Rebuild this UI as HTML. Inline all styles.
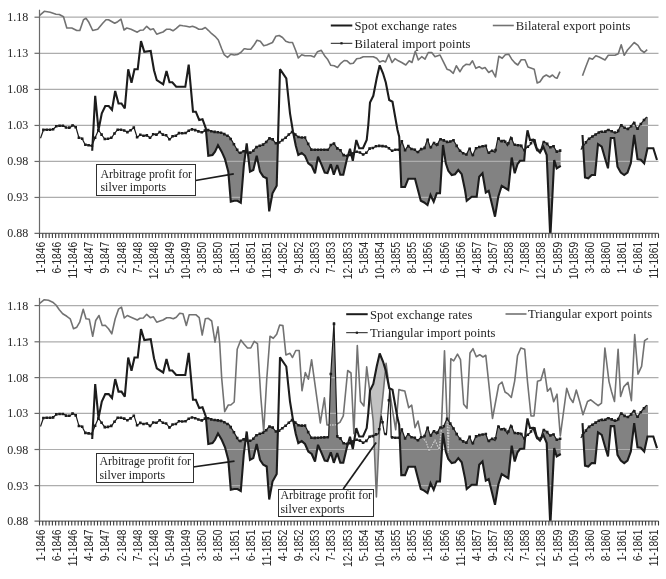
<!DOCTYPE html>
<html><head><meta charset="utf-8"><title>Arbitrage charts</title>
<style>
html,body{margin:0;padding:0;background:#fff;}
svg{display:block;}
text{font-family:"Liberation Serif",serif;fill:#1e1e1e;}
.yl{font-size:12px;}
.lg{font-size:12.6px;letter-spacing:0.09px;}
.bx{font-size:11.86px;}
.xl{font-family:"Liberation Sans",sans-serif;font-size:13.2px;fill:#2a2a2a;}
</style></head><body>
<svg width="666" height="579" viewBox="0 0 666 579">
<rect width="666" height="579" fill="#fff"/>
<defs><clipPath id="c1s0"><polygon points="92.2,-10.3 92.2,150.8 95.2,95.8 98.5,130.0 101.8,113.3 105.3,106.0 108.7,106.0 112.0,109.8 115.2,91.0 118.5,103.5 121.5,103.5 124.8,108.5 128.2,69.3 131.5,82.7 134.5,69.3 137.7,69.3 141.0,41.0 144.3,51.8 150.7,51.0 154.0,70.2 156.8,80.2 163.2,84.3 166.5,71.0 169.5,82.3 172.3,82.3 176.2,86.8 185.3,86.8 188.7,64.7 193.0,111.7 195.8,111.7 199.2,120.0 202.5,119.2 205.8,128.3 208.3,155.8 212.5,155.0 215.0,151.7 218.0,145.3 221.7,151.7 225.0,159.2 228.3,171.7 230.8,201.7 234.2,200.8 237.5,200.8 240.8,202.8 243.8,165.8 246.7,143.3 250.0,171.7 253.3,170.0 256.7,155.8 260.0,171.7 263.3,176.7 266.7,178.3 269.2,211.3 272.5,193.3 276.7,185.8 280.0,69.2 286.3,78.3 290.0,113.3 293.0,131.7 295.8,145.8 298.3,155.0 301.7,153.0 305.0,155.8 308.3,163.3 311.7,165.8 315.0,173.3 318.0,156.7 321.3,164.2 324.7,172.5 327.5,173.0 330.8,164.2 333.8,174.7 337.2,165.0 340.3,174.7 343.3,174.7 346.7,160.0 350.0,148.7 352.8,160.8 356.3,140.0 359.2,148.3 363.0,148.3 366.7,140.0 368.3,125.0 370.0,102.5 373.3,95.8 376.7,78.3 379.7,65.3 383.0,73.3 385.8,82.5 389.2,100.0 392.5,101.7 397.5,130.0 399.2,136.7 401.3,187.0 405.0,187.0 408.3,178.7 415.0,178.7 417.5,188.3 420.8,200.8 424.2,202.5 427.5,205.0 430.5,195.0 433.7,201.7 436.7,193.3 440.0,193.3 443.0,145.0 445.8,163.3 448.3,170.8 451.7,175.0 455.0,174.2 458.3,170.0 461.7,174.2 465.0,190.0 466.7,200.8 471.7,196.7 476.7,196.7 479.2,176.7 482.5,173.3 485.8,192.5 488.7,190.8 495.0,216.7 498.3,196.7 501.7,185.8 508.3,190.0 511.7,157.5 514.7,173.3 517.5,164.2 520.0,160.8 524.2,160.5 525.5,145.0 527.5,130.3 530.0,140.0 533.3,139.7 536.7,149.2 540.0,152.5 543.3,146.7 546.7,155.0 550.3,238.0 554.2,160.0 556.7,168.3 560.8,165.8 560.8,-10.3"/></clipPath><clipPath id="c1i0"><polygon points="202.5,273.4 202.5,132.5 205.8,129.7 209.2,130.3 212.5,131.7 215.8,132.0 219.2,132.5 222.5,133.0 225.8,135.0 229.2,136.7 232.5,141.7 235.8,147.5 239.2,153.3 242.5,151.7 245.0,150.8 248.3,153.3 252.5,151.7 255.8,147.5 259.2,145.8 262.5,145.0 265.8,142.5 269.2,138.3 272.5,139.2 275.8,143.3 279.2,142.5 282.5,140.0 285.8,137.5 289.2,134.2 292.5,131.7 295.8,135.0 299.2,137.5 305.0,137.5 308.3,144.2 311.7,150.0 315.0,149.7 328.3,149.7 330.8,145.0 333.8,143.3 337.2,148.3 340.3,150.0 343.3,155.0 346.7,155.8 350.0,155.0 353.3,153.3 356.7,151.7 360.0,152.5 363.3,154.7 366.7,152.5 370.0,148.0 373.3,148.0 375.8,146.3 380.0,145.8 386.7,146.7 387.5,147.0 391.7,150.8 395.0,149.7 399.2,149.7 401.7,140.8 405.0,150.3 408.0,145.8 411.7,149.2 414.2,149.2 417.5,152.5 420.8,149.2 424.2,148.7 427.5,139.2 430.5,148.0 433.7,142.5 436.7,145.8 440.0,139.2 443.0,140.0 445.8,141.3 448.3,142.5 453.3,140.0 456.7,145.8 460.0,150.8 463.3,153.3 466.3,154.7 469.5,148.3 472.5,155.8 475.8,148.3 479.2,147.0 482.5,146.3 485.8,145.8 488.3,153.3 491.7,150.3 495.0,152.5 498.0,137.5 500.8,141.7 504.2,140.0 507.5,145.8 510.8,136.7 514.2,144.7 517.5,145.3 520.8,145.0 524.2,150.8 526.7,147.5 530.0,145.0 532.5,140.8 535.0,140.0 537.5,150.0 540.0,152.5 543.3,141.7 546.7,143.3 550.0,147.5 553.3,145.8 556.7,151.7 560.8,150.3 560.8,150.3 560.8,273.4"/></clipPath><clipPath id="c1s1"><polygon points="582.5,-10.3 582.5,135.0 585.0,177.5 588.3,178.3 591.7,175.0 595.0,175.0 598.0,144.2 601.7,146.7 605.0,158.3 608.0,168.3 610.8,138.0 614.2,138.0 617.5,166.7 620.8,172.5 624.2,175.0 627.5,172.5 630.8,163.3 634.2,135.0 637.5,159.2 640.8,159.7 644.2,163.3 647.5,148.3 653.3,148.3 657.0,160.0 657.0,-10.3"/></clipPath><clipPath id="c1i1"><polygon points="580.8,273.4 580.8,149.7 584.2,145.0 587.5,140.0 590.8,137.5 594.2,135.3 597.5,133.3 600.8,131.3 604.2,132.5 607.5,129.7 610.8,130.8 614.2,132.5 617.5,132.5 620.8,125.0 624.2,127.5 627.5,129.2 630.8,126.7 633.8,122.0 637.2,129.2 640.0,125.0 643.3,120.8 646.7,117.0 648.0,117.0 648.0,273.4"/></clipPath><clipPath id="c1p"><rect x="39.5" y="4.699999999999999" width="622.0" height="228.70000000000002"/></clipPath></defs>
<polygon points="202.5,273.4 202.5,132.5 205.8,129.7 209.2,130.3 212.5,131.7 215.8,132.0 219.2,132.5 222.5,133.0 225.8,135.0 229.2,136.7 232.5,141.7 235.8,147.5 239.2,153.3 242.5,151.7 245.0,150.8 248.3,153.3 252.5,151.7 255.8,147.5 259.2,145.8 262.5,145.0 265.8,142.5 269.2,138.3 272.5,139.2 275.8,143.3 279.2,142.5 282.5,140.0 285.8,137.5 289.2,134.2 292.5,131.7 295.8,135.0 299.2,137.5 305.0,137.5 308.3,144.2 311.7,150.0 315.0,149.7 328.3,149.7 330.8,145.0 333.8,143.3 337.2,148.3 340.3,150.0 343.3,155.0 346.7,155.8 350.0,155.0 353.3,153.3 356.7,151.7 360.0,152.5 363.3,154.7 366.7,152.5 370.0,148.0 373.3,148.0 375.8,146.3 380.0,145.8 386.7,146.7 387.5,147.0 391.7,150.8 395.0,149.7 399.2,149.7 401.7,140.8 405.0,150.3 408.0,145.8 411.7,149.2 414.2,149.2 417.5,152.5 420.8,149.2 424.2,148.7 427.5,139.2 430.5,148.0 433.7,142.5 436.7,145.8 440.0,139.2 443.0,140.0 445.8,141.3 448.3,142.5 453.3,140.0 456.7,145.8 460.0,150.8 463.3,153.3 466.3,154.7 469.5,148.3 472.5,155.8 475.8,148.3 479.2,147.0 482.5,146.3 485.8,145.8 488.3,153.3 491.7,150.3 495.0,152.5 498.0,137.5 500.8,141.7 504.2,140.0 507.5,145.8 510.8,136.7 514.2,144.7 517.5,145.3 520.8,145.0 524.2,150.8 526.7,147.5 530.0,145.0 532.5,140.8 535.0,140.0 537.5,150.0 540.0,152.5 543.3,141.7 546.7,143.3 550.0,147.5 553.3,145.8 556.7,151.7 560.8,150.3 560.8,150.3 560.8,273.4" fill="#828282" clip-path="url(#c1s0)"/>
<polygon points="580.8,273.4 580.8,149.7 584.2,145.0 587.5,140.0 590.8,137.5 594.2,135.3 597.5,133.3 600.8,131.3 604.2,132.5 607.5,129.7 610.8,130.8 614.2,132.5 617.5,132.5 620.8,125.0 624.2,127.5 627.5,129.2 630.8,126.7 633.8,122.0 637.2,129.2 640.0,125.0 643.3,120.8 646.7,117.0 648.0,117.0 648.0,273.4" fill="#828282" clip-path="url(#c1s1)"/>
<line x1="39.5" y1="17.2" x2="658.5" y2="17.2" stroke="#adadad" stroke-width="1.2"/>
<line x1="39.5" y1="53.3" x2="658.5" y2="53.3" stroke="#adadad" stroke-width="1.2"/>
<line x1="39.5" y1="89.4" x2="658.5" y2="89.4" stroke="#adadad" stroke-width="1.2"/>
<line x1="39.5" y1="125.45" x2="658.5" y2="125.45" stroke="#adadad" stroke-width="1.2"/>
<line x1="39.5" y1="161.45" x2="658.5" y2="161.45" stroke="#adadad" stroke-width="1.2"/>
<line x1="39.5" y1="197.45" x2="658.5" y2="197.45" stroke="#adadad" stroke-width="1.2"/>
<polyline points="39.7,15.3 44.3,11.3 50.2,12.2 56.0,14.2 59.3,14.5 63.5,16.7 66.8,28.0 71.8,28.0 76.8,30.5 79.8,30.5 83.5,19.7 86.0,18.3 88.5,21.7 92.7,30.5 97.7,29.2 102.7,23.3 106.0,19.7 108.5,19.7 114.7,23.3 117.7,21.7 121.0,19.2 124.0,30.0 126.8,28.0 131.0,29.2 137.3,32.2 140.0,30.3 143.3,30.0 146.7,26.3 150.3,29.7 153.3,28.7 156.7,34.2 160.0,33.0 163.0,32.0 166.7,29.2 170.0,29.2 173.0,30.8 176.3,28.3 179.7,25.3 183.0,25.8 186.3,26.2 189.7,27.0 192.5,26.2 195.8,27.5 198.8,29.2 202.0,29.2 205.3,27.5 208.3,30.3 211.7,33.7 215.0,36.3 218.3,40.0 221.7,48.7 224.2,54.7 227.5,57.5 230.8,54.2 234.2,55.0 237.5,54.5 240.8,52.5 244.2,48.7 245.0,48.7 247.5,49.2 250.8,49.2 254.2,44.7 257.0,40.3 260.3,41.3 263.7,45.8 266.7,45.0 272.5,42.5 275.8,36.3 279.2,35.5 282.5,37.5 285.8,41.3 289.2,42.5 292.5,42.5 295.8,50.8 298.3,58.0 301.7,54.7 305.0,55.8 310.8,55.8 314.2,57.0 317.5,51.7 321.3,50.3 325.0,56.3 327.5,59.2 330.8,65.3 334.2,65.8 337.5,67.5 340.8,63.3 344.2,60.5 347.0,60.8 350.3,63.8 353.3,63.3 356.7,58.7 360.0,58.3 363.3,56.7 373.3,56.7 376.7,58.3 379.7,62.0 383.0,60.8 385.5,62.0 388.7,54.2 392.0,62.5 395.0,58.7 398.3,60.8 401.7,62.5 405.8,65.0 409.2,60.8 412.0,62.5 415.3,51.3 418.3,60.0 421.7,56.7 425.0,59.2 428.3,52.5 431.7,52.5 435.0,56.7 440.0,55.0 443.3,61.7 447.0,69.2 450.0,70.3 453.3,73.3 456.3,65.8 460.0,71.7 463.0,66.7 466.3,64.2 469.7,64.7 472.5,60.8 475.8,68.3 479.2,66.7 482.0,68.7 485.0,67.5 488.7,72.5 492.0,70.3 495.5,77.0 498.8,56.3 502.2,58.3 505.3,54.7 508.7,54.2 511.7,59.2 515.0,63.0 517.8,65.0 521.2,59.7 525.0,59.7 528.0,67.0 530.8,68.0 534.2,69.2 537.2,83.0 540.0,81.7 543.3,76.7 546.3,75.0 549.7,77.0 552.5,75.0 555.0,77.5 557.0,78.3 560.0,71.7" fill="none" stroke="#727272" stroke-width="1.6" stroke-linejoin="round"/>
<polyline points="582.5,75.8 585.8,66.7 589.2,58.0 592.5,59.2 595.8,55.8 599.2,57.0 605.0,60.0 608.3,55.3 615.0,55.3 618.3,53.7 621.2,44.7 624.2,55.3 627.5,50.0 634.2,42.5 638.0,45.3 640.8,50.0 644.2,52.5 647.2,49.7" fill="none" stroke="#727272" stroke-width="1.6" stroke-linejoin="round"/>
<polyline points="40.5,138.3 43.5,129.7 52.7,129.7 56.8,125.8 63.5,125.8 66.8,128.0 70.2,127.5 73.0,125.0 76.0,127.5 79.0,138.0 81.8,138.0 85.2,144.7 91.8,145.8 95.2,137.5 98.5,130.0 101.8,135.0 105.2,139.5 108.5,138.7 111.8,137.5 114.3,133.7 117.7,129.7 121.0,129.7 124.3,130.5 127.3,132.2 131.0,130.0 134.0,127.5 137.2,137.5 140.2,134.7 143.3,135.8 146.7,135.3 150.3,138.0 153.3,134.2 156.7,134.7 159.7,132.0 163.3,135.0 166.3,135.3 169.7,139.7 172.5,136.3 175.8,135.8 179.2,133.0 182.5,133.3 185.8,133.0 189.2,130.3 192.5,129.2 195.8,130.3 199.2,131.7 202.5,132.5 205.8,129.7 209.2,130.3 212.5,131.7 215.8,132.0 219.2,132.5 222.5,133.0 225.8,135.0 229.2,136.7 232.5,141.7 235.8,147.5 239.2,153.3 242.5,151.7 245.0,150.8 248.3,153.3 252.5,151.7 255.8,147.5 259.2,145.8 262.5,145.0 265.8,142.5 269.2,138.3 272.5,139.2 275.8,143.3 279.2,142.5 282.5,140.0 285.8,137.5 289.2,134.2 292.5,131.7 295.8,135.0 299.2,137.5 305.0,137.5 308.3,144.2 311.7,150.0 315.0,149.7 328.3,149.7 330.8,145.0 333.8,143.3 337.2,148.3 340.3,150.0 343.3,155.0 346.7,155.8 350.0,155.0 353.3,153.3 356.7,151.7 360.0,152.5 363.3,154.7 366.7,152.5 370.0,148.0 373.3,148.0 375.8,146.3 380.0,145.8 386.7,146.7 387.5,147.0 391.7,150.8 395.0,149.7 399.2,149.7 401.7,140.8 405.0,150.3 408.0,145.8 411.7,149.2 414.2,149.2 417.5,152.5 420.8,149.2 424.2,148.7 427.5,139.2 430.5,148.0 433.7,142.5 436.7,145.8 440.0,139.2 443.0,140.0 445.8,141.3 448.3,142.5 453.3,140.0 456.7,145.8 460.0,150.8 463.3,153.3 466.3,154.7 469.5,148.3 472.5,155.8 475.8,148.3 479.2,147.0 482.5,146.3 485.8,145.8 488.3,153.3 491.7,150.3 495.0,152.5 498.0,137.5 500.8,141.7 504.2,140.0 507.5,145.8 510.8,136.7 514.2,144.7 517.5,145.3 520.8,145.0 524.2,150.8 526.7,147.5 530.0,145.0 532.5,140.8 535.0,140.0 537.5,150.0 540.0,152.5 543.3,141.7 546.7,143.3 550.0,147.5 553.3,145.8 556.7,151.7 560.8,150.3" fill="none" stroke="#1c1c1c" stroke-width="1.2" stroke-linejoin="round"/>
<path d="M42.1,128.6h2.6v2.6h-2.6zM45.4,128.4h2.6v2.6h-2.6zM48.6,128.4h2.6v2.6h-2.6zM51.8,128.0h2.6v2.6h-2.6zM55.0,125.0h2.6v2.6h-2.6zM58.3,124.5h2.6v2.6h-2.6zM61.5,124.5h2.6v2.6h-2.6zM64.7,126.2h2.6v2.6h-2.6zM68.0,126.3h2.6v2.6h-2.6zM71.2,124.2h2.6v2.6h-2.6zM74.4,126.0h2.6v2.6h-2.6zM77.6,136.5h2.6v2.6h-2.6zM80.9,137.4h2.6v2.6h-2.6zM84.1,143.4h2.6v2.6h-2.6zM87.3,144.0h2.6v2.6h-2.6zM90.6,144.4h2.6v2.6h-2.6zM93.8,136.4h2.6v2.6h-2.6zM97.0,129.1h2.6v2.6h-2.6zM100.3,133.3h2.6v2.6h-2.6zM103.5,137.7h2.6v2.6h-2.6zM106.7,137.5h2.6v2.6h-2.6zM109.9,136.4h2.6v2.6h-2.6zM113.2,132.2h2.6v2.6h-2.6zM116.4,128.4h2.6v2.6h-2.6zM119.6,128.4h2.6v2.6h-2.6zM122.9,129.2h2.6v2.6h-2.6zM126.1,130.8h2.6v2.6h-2.6zM129.3,128.9h2.6v2.6h-2.6zM132.5,126.3h2.6v2.6h-2.6zM135.8,135.9h2.6v2.6h-2.6zM139.0,133.4h2.6v2.6h-2.6zM142.2,134.5h2.6v2.6h-2.6zM145.5,134.1h2.6v2.6h-2.6zM148.7,136.4h2.6v2.6h-2.6zM151.9,133.0h2.6v2.6h-2.6zM155.1,133.3h2.6v2.6h-2.6zM158.4,130.7h2.6v2.6h-2.6zM161.6,133.3h2.6v2.6h-2.6zM164.8,134.0h2.6v2.6h-2.6zM168.1,138.0h2.6v2.6h-2.6zM171.3,135.0h2.6v2.6h-2.6zM174.5,134.5h2.6v2.6h-2.6zM177.7,131.8h2.6v2.6h-2.6zM181.0,132.0h2.6v2.6h-2.6zM184.2,131.7h2.6v2.6h-2.6zM187.4,129.4h2.6v2.6h-2.6zM190.7,128.1h2.6v2.6h-2.6zM193.9,128.8h2.6v2.6h-2.6zM197.1,130.1h2.6v2.6h-2.6zM200.4,131.0h2.6v2.6h-2.6zM203.6,129.2h2.6v2.6h-2.6zM206.8,128.8h2.6v2.6h-2.6zM210.0,129.9h2.6v2.6h-2.6zM213.3,130.6h2.6v2.6h-2.6zM216.5,131.0h2.6v2.6h-2.6zM219.7,131.5h2.6v2.6h-2.6zM223.0,132.8h2.6v2.6h-2.6zM226.2,134.5h2.6v2.6h-2.6zM229.4,137.7h2.6v2.6h-2.6zM232.6,142.9h2.6v2.6h-2.6zM235.9,148.5h2.6v2.6h-2.6zM239.1,151.4h2.6v2.6h-2.6zM242.3,150.0h2.6v2.6h-2.6zM245.6,150.9h2.6v2.6h-2.6zM248.8,151.3h2.6v2.6h-2.6zM252.0,149.4h2.6v2.6h-2.6zM255.2,145.8h2.6v2.6h-2.6zM258.5,144.4h2.6v2.6h-2.6zM261.7,143.3h2.6v2.6h-2.6zM264.9,140.7h2.6v2.6h-2.6zM268.2,137.1h2.6v2.6h-2.6zM271.4,138.1h2.6v2.6h-2.6zM274.6,142.0h2.6v2.6h-2.6zM277.8,141.2h2.6v2.6h-2.6zM281.1,138.8h2.6v2.6h-2.6zM284.3,136.4h2.6v2.6h-2.6zM287.5,133.2h2.6v2.6h-2.6zM290.8,130.7h2.6v2.6h-2.6zM294.0,133.2h2.6v2.6h-2.6zM297.2,135.7h2.6v2.6h-2.6zM300.4,136.2h2.6v2.6h-2.6zM303.7,136.2h2.6v2.6h-2.6zM306.9,142.6h2.6v2.6h-2.6zM310.1,148.3h2.6v2.6h-2.6zM313.4,148.4h2.6v2.6h-2.6zM316.6,148.4h2.6v2.6h-2.6zM319.8,148.4h2.6v2.6h-2.6zM323.1,148.4h2.6v2.6h-2.6zM326.3,148.4h2.6v2.6h-2.6zM329.5,143.7h2.6v2.6h-2.6zM332.7,142.3h2.6v2.6h-2.6zM336.0,147.1h2.6v2.6h-2.6zM339.2,149.0h2.6v2.6h-2.6zM342.4,153.8h2.6v2.6h-2.6zM345.7,154.5h2.6v2.6h-2.6zM348.9,153.6h2.6v2.6h-2.6zM352.1,152.0h2.6v2.6h-2.6zM355.3,150.4h2.6v2.6h-2.6zM358.6,151.2h2.6v2.6h-2.6zM361.8,153.2h2.6v2.6h-2.6zM365.0,151.4h2.6v2.6h-2.6zM368.3,147.3h2.6v2.6h-2.6zM371.5,146.7h2.6v2.6h-2.6zM374.7,145.0h2.6v2.6h-2.6zM377.9,144.6h2.6v2.6h-2.6zM381.2,144.8h2.6v2.6h-2.6zM384.4,145.2h2.6v2.6h-2.6zM387.6,147.0h2.6v2.6h-2.6zM390.9,149.4h2.6v2.6h-2.6zM394.1,148.4h2.6v2.6h-2.6zM397.3,148.4h2.6v2.6h-2.6zM400.5,140.0h2.6v2.6h-2.6zM403.8,148.9h2.6v2.6h-2.6zM407.0,144.8h2.6v2.6h-2.6zM410.2,147.7h2.6v2.6h-2.6zM413.5,148.5h2.6v2.6h-2.6zM416.7,150.7h2.6v2.6h-2.6zM419.9,147.8h2.6v2.6h-2.6zM423.2,146.6h2.6v2.6h-2.6zM426.4,138.4h2.6v2.6h-2.6zM429.6,146.0h2.6v2.6h-2.6zM432.8,141.7h2.6v2.6h-2.6zM436.1,143.1h2.6v2.6h-2.6zM439.3,138.0h2.6v2.6h-2.6zM442.5,139.1h2.6v2.6h-2.6zM445.8,140.6h2.6v2.6h-2.6zM449.0,140.2h2.6v2.6h-2.6zM452.2,139.0h2.6v2.6h-2.6zM455.4,144.6h2.6v2.6h-2.6zM458.7,149.5h2.6v2.6h-2.6zM461.9,151.9h2.6v2.6h-2.6zM465.1,153.2h2.6v2.6h-2.6zM468.4,147.4h2.6v2.6h-2.6zM471.6,153.7h2.6v2.6h-2.6zM474.8,146.9h2.6v2.6h-2.6zM478.0,145.7h2.6v2.6h-2.6zM481.3,145.0h2.6v2.6h-2.6zM484.5,144.5h2.6v2.6h-2.6zM487.7,151.4h2.6v2.6h-2.6zM491.0,149.4h2.6v2.6h-2.6zM494.2,148.8h2.6v2.6h-2.6zM497.4,137.3h2.6v2.6h-2.6zM500.6,139.8h2.6v2.6h-2.6zM503.9,140.5h2.6v2.6h-2.6zM507.1,142.0h2.6v2.6h-2.6zM510.3,137.3h2.6v2.6h-2.6zM513.6,143.5h2.6v2.6h-2.6zM516.8,144.0h2.6v2.6h-2.6zM520.0,144.6h2.6v2.6h-2.6zM523.3,149.0h2.6v2.6h-2.6zM526.5,145.4h2.6v2.6h-2.6zM529.7,142.0h2.6v2.6h-2.6zM532.9,139.0h2.6v2.6h-2.6zM536.2,148.6h2.6v2.6h-2.6zM539.4,148.9h2.6v2.6h-2.6zM542.6,140.7h2.6v2.6h-2.6zM545.9,142.6h2.6v2.6h-2.6zM549.1,146.0h2.6v2.6h-2.6zM552.3,145.0h2.6v2.6h-2.6zM555.5,150.3h2.6v2.6h-2.6zM558.8,149.3h2.6v2.6h-2.6z" fill="#1c1c1c"/>
<polyline points="580.8,149.7 584.2,145.0 587.5,140.0 590.8,137.5 594.2,135.3 597.5,133.3 600.8,131.3 604.2,132.5 607.5,129.7 610.8,130.8 614.2,132.5 617.5,132.5 620.8,125.0 624.2,127.5 627.5,129.2 630.8,126.7 633.8,122.0 637.2,129.2 640.0,125.0 643.3,120.8 646.7,117.0" fill="none" stroke="#1c1c1c" stroke-width="1.2" stroke-linejoin="round"/>
<path d="M581.4,145.8h2.6v2.6h-2.6zM584.6,141.1h2.6v2.6h-2.6zM587.8,137.5h2.6v2.6h-2.6zM591.1,135.2h2.6v2.6h-2.6zM594.3,133.2h2.6v2.6h-2.6zM597.5,131.2h2.6v2.6h-2.6zM600.7,130.5h2.6v2.6h-2.6zM604.0,130.3h2.6v2.6h-2.6zM607.2,128.7h2.6v2.6h-2.6zM610.4,130.0h2.6v2.6h-2.6zM613.7,131.2h2.6v2.6h-2.6zM616.9,129.6h2.6v2.6h-2.6zM620.1,124.1h2.6v2.6h-2.6zM623.3,126.4h2.6v2.6h-2.6zM626.6,127.6h2.6v2.6h-2.6zM629.8,124.9h2.6v2.6h-2.6zM633.0,121.8h2.6v2.6h-2.6zM636.3,127.3h2.6v2.6h-2.6zM639.5,122.7h2.6v2.6h-2.6zM642.7,118.7h2.6v2.6h-2.6z" fill="#1c1c1c"/>
<polyline points="92.2,150.8 95.2,95.8 98.5,130.0 101.8,113.3 105.3,106.0 108.7,106.0 112.0,109.8 115.2,91.0 118.5,103.5 121.5,103.5 124.8,108.5 128.2,69.3 131.5,82.7 134.5,69.3 137.7,69.3 141.0,41.0 144.3,51.8 150.7,51.0 154.0,70.2 156.8,80.2 163.2,84.3 166.5,71.0 169.5,82.3 172.3,82.3 176.2,86.8 185.3,86.8 188.7,64.7 193.0,111.7 195.8,111.7 199.2,120.0 202.5,119.2 205.8,128.3 208.3,155.8 212.5,155.0 215.0,151.7 218.0,145.3 221.7,151.7 225.0,159.2 228.3,171.7 230.8,201.7 234.2,200.8 237.5,200.8 240.8,202.8 243.8,165.8 246.7,143.3 250.0,171.7 253.3,170.0 256.7,155.8 260.0,171.7 263.3,176.7 266.7,178.3 269.2,211.3 272.5,193.3 276.7,185.8 280.0,69.2 286.3,78.3 290.0,113.3 293.0,131.7 295.8,145.8 298.3,155.0 301.7,153.0 305.0,155.8 308.3,163.3 311.7,165.8 315.0,173.3 318.0,156.7 321.3,164.2 324.7,172.5 327.5,173.0 330.8,164.2 333.8,174.7 337.2,165.0 340.3,174.7 343.3,174.7 346.7,160.0 350.0,148.7 352.8,160.8 356.3,140.0 359.2,148.3 363.0,148.3 366.7,140.0 368.3,125.0 370.0,102.5 373.3,95.8 376.7,78.3 379.7,65.3 383.0,73.3 385.8,82.5 389.2,100.0 392.5,101.7 397.5,130.0 399.2,136.7 401.3,187.0 405.0,187.0 408.3,178.7 415.0,178.7 417.5,188.3 420.8,200.8 424.2,202.5 427.5,205.0 430.5,195.0 433.7,201.7 436.7,193.3 440.0,193.3 443.0,145.0 445.8,163.3 448.3,170.8 451.7,175.0 455.0,174.2 458.3,170.0 461.7,174.2 465.0,190.0 466.7,200.8 471.7,196.7 476.7,196.7 479.2,176.7 482.5,173.3 485.8,192.5 488.7,190.8 495.0,216.7 498.3,196.7 501.7,185.8 508.3,190.0 511.7,157.5 514.7,173.3 517.5,164.2 520.0,160.8 524.2,160.5 525.5,145.0 527.5,130.3 530.0,140.0 533.3,139.7 536.7,149.2 540.0,152.5 543.3,146.7 546.7,155.0 550.3,238.0 554.2,160.0 556.7,168.3 560.8,165.8" fill="none" stroke="#1c1c1c" stroke-width="2.1" stroke-linejoin="miter" stroke-miterlimit="3" clip-path="url(#c1p)"/>
<polyline points="582.5,135.0 585.0,177.5 588.3,178.3 591.7,175.0 595.0,175.0 598.0,144.2 601.7,146.7 605.0,158.3 608.0,168.3 610.8,138.0 614.2,138.0 617.5,166.7 620.8,172.5 624.2,175.0 627.5,172.5 630.8,163.3 634.2,135.0 637.5,159.2 640.8,159.7 644.2,163.3 647.5,148.3 653.3,148.3 657.0,160.0" fill="none" stroke="#1c1c1c" stroke-width="2.1" stroke-linejoin="miter" stroke-miterlimit="3" clip-path="url(#c1p)"/>
<line x1="39.5" y1="9.7" x2="39.5" y2="233.9" stroke="#6a6a6a" stroke-width="1.2"/>
<line x1="34.5" y1="233.4" x2="658.5" y2="233.4" stroke="#6a6a6a" stroke-width="1.2"/>
<line x1="34.5" y1="17.2" x2="39.5" y2="17.2" stroke="#6a6a6a" stroke-width="1.2"/>
<line x1="34.5" y1="53.3" x2="39.5" y2="53.3" stroke="#6a6a6a" stroke-width="1.2"/>
<line x1="34.5" y1="89.4" x2="39.5" y2="89.4" stroke="#6a6a6a" stroke-width="1.2"/>
<line x1="34.5" y1="125.45" x2="39.5" y2="125.45" stroke="#6a6a6a" stroke-width="1.2"/>
<line x1="34.5" y1="161.45" x2="39.5" y2="161.45" stroke="#6a6a6a" stroke-width="1.2"/>
<line x1="34.5" y1="197.45" x2="39.5" y2="197.45" stroke="#6a6a6a" stroke-width="1.2"/>
<path d="M39.50,233.4v4.5M42.72,233.4v4.5M45.95,233.4v4.5M49.17,233.4v4.5M52.40,233.4v4.5M55.62,233.4v4.5M58.84,233.4v4.5M62.07,233.4v4.5M65.29,233.4v4.5M68.52,233.4v4.5M71.74,233.4v4.5M74.96,233.4v4.5M78.19,233.4v4.5M81.41,233.4v4.5M84.64,233.4v4.5M87.86,233.4v4.5M91.08,233.4v4.5M94.31,233.4v4.5M97.53,233.4v4.5M100.76,233.4v4.5M103.98,233.4v4.5M107.20,233.4v4.5M110.43,233.4v4.5M113.65,233.4v4.5M116.88,233.4v4.5M120.10,233.4v4.5M123.32,233.4v4.5M126.55,233.4v4.5M129.77,233.4v4.5M132.99,233.4v4.5M136.22,233.4v4.5M139.44,233.4v4.5M142.67,233.4v4.5M145.89,233.4v4.5M149.11,233.4v4.5M152.34,233.4v4.5M155.56,233.4v4.5M158.79,233.4v4.5M162.01,233.4v4.5M165.23,233.4v4.5M168.46,233.4v4.5M171.68,233.4v4.5M174.91,233.4v4.5M178.13,233.4v4.5M181.35,233.4v4.5M184.58,233.4v4.5M187.80,233.4v4.5M191.03,233.4v4.5M194.25,233.4v4.5M197.47,233.4v4.5M200.70,233.4v4.5M203.92,233.4v4.5M207.15,233.4v4.5M210.37,233.4v4.5M213.59,233.4v4.5M216.82,233.4v4.5M220.04,233.4v4.5M223.27,233.4v4.5M226.49,233.4v4.5M229.71,233.4v4.5M232.94,233.4v4.5M236.16,233.4v4.5M239.39,233.4v4.5M242.61,233.4v4.5M245.83,233.4v4.5M249.06,233.4v4.5M252.28,233.4v4.5M255.51,233.4v4.5M258.73,233.4v4.5M261.95,233.4v4.5M265.18,233.4v4.5M268.40,233.4v4.5M271.62,233.4v4.5M274.85,233.4v4.5M278.07,233.4v4.5M281.30,233.4v4.5M284.52,233.4v4.5M287.74,233.4v4.5M290.97,233.4v4.5M294.19,233.4v4.5M297.42,233.4v4.5M300.64,233.4v4.5M303.86,233.4v4.5M307.09,233.4v4.5M310.31,233.4v4.5M313.54,233.4v4.5M316.76,233.4v4.5M319.98,233.4v4.5M323.21,233.4v4.5M326.43,233.4v4.5M329.66,233.4v4.5M332.88,233.4v4.5M336.10,233.4v4.5M339.33,233.4v4.5M342.55,233.4v4.5M345.78,233.4v4.5M349.00,233.4v4.5M352.22,233.4v4.5M355.45,233.4v4.5M358.67,233.4v4.5M361.90,233.4v4.5M365.12,233.4v4.5M368.34,233.4v4.5M371.57,233.4v4.5M374.79,233.4v4.5M378.02,233.4v4.5M381.24,233.4v4.5M384.46,233.4v4.5M387.69,233.4v4.5M390.91,233.4v4.5M394.14,233.4v4.5M397.36,233.4v4.5M400.58,233.4v4.5M403.81,233.4v4.5M407.03,233.4v4.5M410.26,233.4v4.5M413.48,233.4v4.5M416.70,233.4v4.5M419.93,233.4v4.5M423.15,233.4v4.5M426.38,233.4v4.5M429.60,233.4v4.5M432.82,233.4v4.5M436.05,233.4v4.5M439.27,233.4v4.5M442.49,233.4v4.5M445.72,233.4v4.5M448.94,233.4v4.5M452.17,233.4v4.5M455.39,233.4v4.5M458.61,233.4v4.5M461.84,233.4v4.5M465.06,233.4v4.5M468.29,233.4v4.5M471.51,233.4v4.5M474.73,233.4v4.5M477.96,233.4v4.5M481.18,233.4v4.5M484.41,233.4v4.5M487.63,233.4v4.5M490.85,233.4v4.5M494.08,233.4v4.5M497.30,233.4v4.5M500.53,233.4v4.5M503.75,233.4v4.5M506.97,233.4v4.5M510.20,233.4v4.5M513.42,233.4v4.5M516.65,233.4v4.5M519.87,233.4v4.5M523.09,233.4v4.5M526.32,233.4v4.5M529.54,233.4v4.5M532.77,233.4v4.5M535.99,233.4v4.5M539.21,233.4v4.5M542.44,233.4v4.5M545.66,233.4v4.5M548.89,233.4v4.5M552.11,233.4v4.5M555.33,233.4v4.5M558.56,233.4v4.5M561.78,233.4v4.5M565.01,233.4v4.5M568.23,233.4v4.5M571.45,233.4v4.5M574.68,233.4v4.5M577.90,233.4v4.5M581.12,233.4v4.5M584.35,233.4v4.5M587.57,233.4v4.5M590.80,233.4v4.5M594.02,233.4v4.5M597.24,233.4v4.5M600.47,233.4v4.5M603.69,233.4v4.5M606.92,233.4v4.5M610.14,233.4v4.5M613.36,233.4v4.5M616.59,233.4v4.5M619.81,233.4v4.5M623.04,233.4v4.5M626.26,233.4v4.5M629.48,233.4v4.5M632.71,233.4v4.5M635.93,233.4v4.5M639.16,233.4v4.5M642.38,233.4v4.5M645.60,233.4v4.5M648.83,233.4v4.5M652.05,233.4v4.5M655.28,233.4v4.5M658.50,233.4v4.5" stroke="#3a3a3a" stroke-width="1.1" fill="none"/>
<text x="7.3" y="21.2" class="yl">1.18</text>
<text x="7.3" y="57.3" class="yl">1.13</text>
<text x="7.3" y="93.4" class="yl">1.08</text>
<text x="7.3" y="129.4" class="yl">1.03</text>
<text x="7.3" y="165.4" class="yl">0.98</text>
<text x="7.3" y="201.4" class="yl">0.93</text>
<text x="7.3" y="237.4" class="yl">0.88</text>
<text class="xl" transform="translate(44.8,241.9) rotate(-90) scale(0.772,1)" text-anchor="end">1-1846</text>
<text class="xl" transform="translate(60.9,241.9) rotate(-90) scale(0.772,1)" text-anchor="end">6-1846</text>
<text class="xl" transform="translate(77.0,241.9) rotate(-90) scale(0.772,1)" text-anchor="end">11-1846</text>
<text class="xl" transform="translate(93.2,241.9) rotate(-90) scale(0.772,1)" text-anchor="end">4-1847</text>
<text class="xl" transform="translate(109.3,241.9) rotate(-90) scale(0.772,1)" text-anchor="end">9-1847</text>
<text class="xl" transform="translate(125.5,241.9) rotate(-90) scale(0.772,1)" text-anchor="end">2-1848</text>
<text class="xl" transform="translate(141.6,241.9) rotate(-90) scale(0.772,1)" text-anchor="end">7-1848</text>
<text class="xl" transform="translate(157.8,241.9) rotate(-90) scale(0.772,1)" text-anchor="end">12-1848</text>
<text class="xl" transform="translate(173.9,241.9) rotate(-90) scale(0.772,1)" text-anchor="end">5-1849</text>
<text class="xl" transform="translate(190.1,241.9) rotate(-90) scale(0.772,1)" text-anchor="end">10-1849</text>
<text class="xl" transform="translate(206.2,241.9) rotate(-90) scale(0.772,1)" text-anchor="end">3-1850</text>
<text class="xl" transform="translate(222.4,241.9) rotate(-90) scale(0.772,1)" text-anchor="end">8-1850</text>
<text class="xl" transform="translate(238.5,241.9) rotate(-90) scale(0.772,1)" text-anchor="end">1-1851</text>
<text class="xl" transform="translate(254.7,241.9) rotate(-90) scale(0.772,1)" text-anchor="end">6-1851</text>
<text class="xl" transform="translate(270.8,241.9) rotate(-90) scale(0.772,1)" text-anchor="end">11-1851</text>
<text class="xl" transform="translate(287.0,241.9) rotate(-90) scale(0.772,1)" text-anchor="end">4-1852</text>
<text class="xl" transform="translate(303.1,241.9) rotate(-90) scale(0.772,1)" text-anchor="end">9-1852</text>
<text class="xl" transform="translate(319.3,241.9) rotate(-90) scale(0.772,1)" text-anchor="end">2-1853</text>
<text class="xl" transform="translate(335.4,241.9) rotate(-90) scale(0.772,1)" text-anchor="end">7-1853</text>
<text class="xl" transform="translate(351.6,241.9) rotate(-90) scale(0.772,1)" text-anchor="end">12-1853</text>
<text class="xl" transform="translate(367.7,241.9) rotate(-90) scale(0.772,1)" text-anchor="end">5-1854</text>
<text class="xl" transform="translate(383.9,241.9) rotate(-90) scale(0.772,1)" text-anchor="end">10-1854</text>
<text class="xl" transform="translate(400.0,241.9) rotate(-90) scale(0.772,1)" text-anchor="end">3-1855</text>
<text class="xl" transform="translate(416.2,241.9) rotate(-90) scale(0.772,1)" text-anchor="end">8-1855</text>
<text class="xl" transform="translate(432.3,241.9) rotate(-90) scale(0.772,1)" text-anchor="end">1-1856</text>
<text class="xl" transform="translate(448.5,241.9) rotate(-90) scale(0.772,1)" text-anchor="end">6-1856</text>
<text class="xl" transform="translate(464.6,241.9) rotate(-90) scale(0.772,1)" text-anchor="end">11-1856</text>
<text class="xl" transform="translate(480.8,241.9) rotate(-90) scale(0.772,1)" text-anchor="end">4-1857</text>
<text class="xl" transform="translate(496.9,241.9) rotate(-90) scale(0.772,1)" text-anchor="end">9-1857</text>
<text class="xl" transform="translate(513.1,241.9) rotate(-90) scale(0.772,1)" text-anchor="end">2-1858</text>
<text class="xl" transform="translate(529.2,241.9) rotate(-90) scale(0.772,1)" text-anchor="end">7-1858</text>
<text class="xl" transform="translate(545.4,241.9) rotate(-90) scale(0.772,1)" text-anchor="end">12-1858</text>
<text class="xl" transform="translate(561.5,241.9) rotate(-90) scale(0.772,1)" text-anchor="end">5-1859</text>
<text class="xl" transform="translate(577.7,241.9) rotate(-90) scale(0.772,1)" text-anchor="end">10-1859</text>
<text class="xl" transform="translate(593.8,241.9) rotate(-90) scale(0.772,1)" text-anchor="end">3-1860</text>
<text class="xl" transform="translate(609.9,241.9) rotate(-90) scale(0.772,1)" text-anchor="end">8-1860</text>
<text class="xl" transform="translate(626.1,241.9) rotate(-90) scale(0.772,1)" text-anchor="end">1-1861</text>
<text class="xl" transform="translate(642.2,241.9) rotate(-90) scale(0.772,1)" text-anchor="end">6-1861</text>
<text class="xl" transform="translate(658.4,241.9) rotate(-90) scale(0.772,1)" text-anchor="end">11-1861</text>
<line x1="330.8" y1="25.5" x2="352.3" y2="25.5" stroke="#1c1c1c" stroke-width="2"/>
<text x="354.5" y="30.0" class="lg">Spot exchange rates</text>
<line x1="330.8" y1="43.3" x2="352.3" y2="43.3" stroke="#1c1c1c" stroke-width="1"/>
<rect x="340.40000000000003" y="42.199999999999996" width="2.2" height="2.2" fill="#1c1c1c"/>
<text x="354.5" y="47.5" class="lg">Bilateral import points</text>
<line x1="492.8" y1="25.5" x2="513.8" y2="25.5" stroke="#727272" stroke-width="1.6"/>
<text x="515.8" y="29.5" class="lg">Bilateral export points</text>
<line x1="195.5" y1="180.5" x2="233.8" y2="173.8" stroke="#1c1c1c" stroke-width="1.7"/>
<rect x="96.5" y="164.5" width="99" height="31" fill="#fff" stroke="#303030" stroke-width="1"/>
<text x="100.5" y="178.0" class="bx">Arbitrage profit for</text>
<text x="100.5" y="191.3" class="bx">silver imports</text>
<defs><clipPath id="c2s0"><polygon points="92.2,277.9 92.2,439.0 95.2,384.0 98.5,418.1 101.8,401.5 105.3,394.1 108.7,394.1 112.0,398.0 115.2,379.1 118.5,391.6 121.5,391.6 124.8,396.6 128.2,357.5 131.5,370.8 134.5,357.5 137.7,357.5 141.0,329.1 144.3,340.0 150.7,339.1 154.0,358.3 156.8,368.3 163.2,372.5 166.5,359.1 169.5,370.5 172.3,370.5 176.2,375.0 185.3,375.0 188.7,352.8 193.0,399.8 195.8,399.8 199.2,408.1 202.5,407.3 205.8,416.5 208.3,444.0 212.5,443.1 215.0,439.8 218.0,433.5 221.7,439.8 225.0,447.3 228.3,459.8 230.8,489.8 234.2,489.0 237.5,489.0 240.8,491.0 243.8,454.0 246.7,431.5 250.0,459.8 253.3,458.1 256.7,444.0 260.0,459.8 263.3,464.8 266.7,466.5 269.2,499.5 272.5,481.5 276.7,474.0 280.0,357.3 286.3,366.5 290.0,401.5 293.0,419.8 295.8,434.0 298.3,443.1 301.7,441.1 305.0,444.0 308.3,451.5 311.7,454.0 315.0,461.5 318.0,444.8 321.3,452.3 324.7,460.6 327.5,461.1 330.8,452.3 333.8,462.8 337.2,453.1 340.3,462.8 343.3,462.8 346.7,448.1 350.0,436.8 352.8,449.0 356.3,428.1 359.2,436.5 363.0,436.5 366.7,428.1 368.3,413.1 370.0,390.6 373.3,384.0 376.7,366.5 379.7,353.5 383.0,361.5 385.8,370.6 389.2,388.1 392.5,389.8 397.5,418.1 399.2,424.8 401.3,475.1 405.0,475.1 408.3,466.8 415.0,466.8 417.5,476.5 420.8,489.0 424.2,490.6 427.5,493.1 430.5,483.1 433.7,489.8 436.7,481.5 440.0,481.5 443.0,433.1 445.8,451.5 448.3,459.0 451.7,463.1 455.0,462.3 458.3,458.1 461.7,462.3 465.0,478.1 466.7,489.0 471.7,484.8 476.7,484.8 479.2,464.8 482.5,461.5 485.8,480.6 488.7,479.0 495.0,504.8 498.3,484.8 501.7,474.0 508.3,478.1 511.7,445.6 514.7,461.5 517.5,452.3 520.0,449.0 524.2,448.6 525.5,433.1 527.5,418.5 530.0,428.1 533.3,427.8 536.7,437.3 540.0,440.6 543.3,434.8 546.7,443.1 550.3,526.1 554.2,448.1 556.7,456.5 560.8,454.0 560.8,277.9"/></clipPath><clipPath id="c2i0"><polygon points="202.5,561.1 202.5,420.6 205.8,417.8 209.2,418.5 212.5,419.8 215.8,420.1 219.2,420.6 222.5,421.1 225.8,423.1 229.2,424.8 232.5,429.8 235.8,435.6 239.2,441.5 242.5,439.8 245.0,439.0 248.3,441.5 252.5,439.8 255.8,435.6 259.2,434.0 262.5,433.1 265.8,430.6 269.2,426.5 272.5,427.3 275.8,431.5 279.2,430.6 282.5,428.1 285.8,425.6 289.2,422.3 292.5,419.8 295.8,423.1 299.2,425.6 305.0,425.6 308.3,432.3 311.7,438.1 315.0,437.8 328.6,437.2 330.8,374.2 334.0,322.5 337.3,437.4 340.3,438.1 343.3,443.1 346.7,444.0 350.0,443.1 353.3,441.5 356.7,439.8 360.0,440.6 363.3,442.8 366.7,440.6 370.0,436.1 373.3,436.1 375.8,434.5 378.5,433.8 381.4,416.0 384.5,434.0 386.5,434.0 389.8,388.2 391.2,437.2 395.0,437.8 399.2,437.8 401.7,429.0 405.0,438.5 408.0,434.0 411.7,437.3 414.2,437.3 417.5,440.6 420.8,437.3 424.2,436.8 427.5,427.3 430.5,436.1 433.7,430.6 436.7,434.0 440.0,427.3 443.0,428.1 447.0,418.6 453.3,428.1 456.7,434.0 460.0,439.0 463.3,441.5 466.3,442.8 469.5,436.5 472.5,444.0 475.8,436.5 479.2,435.1 482.5,434.5 485.8,434.0 488.3,441.5 491.7,438.5 495.0,440.6 498.0,425.6 500.8,429.8 504.2,428.1 507.5,434.0 510.8,424.8 514.2,432.8 517.5,433.5 520.8,433.1 524.2,439.0 526.7,435.6 530.0,433.1 532.5,429.0 535.0,428.1 537.5,438.1 540.0,440.6 543.3,429.8 546.7,431.5 550.0,435.6 553.3,434.0 556.7,439.8 560.8,438.5 560.8,438.5 560.8,561.1"/></clipPath><clipPath id="c2s1"><polygon points="582.5,277.9 582.5,423.1 585.0,465.6 588.3,466.5 591.7,463.1 595.0,463.1 598.0,432.3 601.7,434.8 605.0,446.5 608.0,456.5 610.8,426.1 614.2,426.1 617.5,454.8 620.8,460.6 624.2,463.1 627.5,460.6 630.8,451.5 634.2,423.1 637.5,447.3 640.8,447.8 644.2,451.5 647.5,436.5 653.3,436.5 657.0,448.1 657.0,277.9"/></clipPath><clipPath id="c2i1"><polygon points="580.8,561.1 580.8,437.8 584.2,433.1 587.5,428.1 590.8,425.6 594.2,423.5 597.5,421.5 600.8,419.5 604.2,420.6 607.5,417.8 610.8,419.0 614.2,420.6 617.5,420.6 620.8,413.1 624.2,415.6 627.5,417.3 630.8,414.8 633.8,410.1 637.2,417.3 640.0,413.1 643.3,409.0 646.7,405.1 648.0,405.1 648.0,561.1"/></clipPath><clipPath id="c2l"><polygon points="366.7,277.9 366.7,366.8 370.0,393.0 373.2,421.0 376.4,497.0 379.6,428.0 382.9,396.0 386.1,363.4 389.3,388.5 389.3,277.9"/></clipPath><clipPath id="c2p"><rect x="39.5" y="292.9" width="622.0" height="228.20000000000005"/></clipPath></defs>
<polygon points="202.5,561.1 202.5,420.6 205.8,417.8 209.2,418.5 212.5,419.8 215.8,420.1 219.2,420.6 222.5,421.1 225.8,423.1 229.2,424.8 232.5,429.8 235.8,435.6 239.2,441.5 242.5,439.8 245.0,439.0 248.3,441.5 252.5,439.8 255.8,435.6 259.2,434.0 262.5,433.1 265.8,430.6 269.2,426.5 272.5,427.3 275.8,431.5 279.2,430.6 282.5,428.1 285.8,425.6 289.2,422.3 292.5,419.8 295.8,423.1 299.2,425.6 305.0,425.6 308.3,432.3 311.7,438.1 315.0,437.8 328.6,437.2 330.8,374.2 334.0,322.5 337.3,437.4 340.3,438.1 343.3,443.1 346.7,444.0 350.0,443.1 353.3,441.5 356.7,439.8 360.0,440.6 363.3,442.8 366.7,440.6 370.0,436.1 373.3,436.1 375.8,434.5 378.5,433.8 381.4,416.0 384.5,434.0 386.5,434.0 389.8,388.2 391.2,437.2 395.0,437.8 399.2,437.8 401.7,429.0 405.0,438.5 408.0,434.0 411.7,437.3 414.2,437.3 417.5,440.6 420.8,437.3 424.2,436.8 427.5,427.3 430.5,436.1 433.7,430.6 436.7,434.0 440.0,427.3 443.0,428.1 447.0,418.6 453.3,428.1 456.7,434.0 460.0,439.0 463.3,441.5 466.3,442.8 469.5,436.5 472.5,444.0 475.8,436.5 479.2,435.1 482.5,434.5 485.8,434.0 488.3,441.5 491.7,438.5 495.0,440.6 498.0,425.6 500.8,429.8 504.2,428.1 507.5,434.0 510.8,424.8 514.2,432.8 517.5,433.5 520.8,433.1 524.2,439.0 526.7,435.6 530.0,433.1 532.5,429.0 535.0,428.1 537.5,438.1 540.0,440.6 543.3,429.8 546.7,431.5 550.0,435.6 553.3,434.0 556.7,439.8 560.8,438.5 560.8,438.5 560.8,561.1" fill="#828282" clip-path="url(#c2s0)"/>
<polygon points="580.8,561.1 580.8,437.8 584.2,433.1 587.5,428.1 590.8,425.6 594.2,423.5 597.5,421.5 600.8,419.5 604.2,420.6 607.5,417.8 610.8,419.0 614.2,420.6 617.5,420.6 620.8,413.1 624.2,415.6 627.5,417.3 630.8,414.8 633.8,410.1 637.2,417.3 640.0,413.1 643.3,409.0 646.7,405.1 648.0,405.1 648.0,561.1" fill="#828282" clip-path="url(#c2s1)"/>
<polygon points="359.2,561.1 359.2,436.5 363.0,436.5 366.7,428.1 368.3,413.1 370.0,390.6 373.3,384.0 376.7,366.5 379.7,353.5 383.0,361.5 385.8,370.6 389.2,388.1 392.5,389.8 392.5,561.1" fill="#c2c2c2" clip-path="url(#c2l)"/>
<line x1="39.5" y1="305.55" x2="658.5" y2="305.55" stroke="#adadad" stroke-width="1.2"/>
<line x1="39.5" y1="341.8" x2="658.5" y2="341.8" stroke="#adadad" stroke-width="1.2"/>
<line x1="39.5" y1="377.6" x2="658.5" y2="377.6" stroke="#adadad" stroke-width="1.2"/>
<line x1="39.5" y1="413.4" x2="658.5" y2="413.4" stroke="#adadad" stroke-width="1.2"/>
<line x1="39.5" y1="449.5" x2="658.5" y2="449.5" stroke="#adadad" stroke-width="1.2"/>
<line x1="39.5" y1="485.6" x2="658.5" y2="485.6" stroke="#adadad" stroke-width="1.2"/>
<polyline points="39.7,303.3 44.3,299.7 48.5,300.2 52.7,302.2 56.0,305.0 59.3,309.7 62.7,313.8 66.8,316.3 70.2,318.8 73.5,328.8 76.8,327.2 79.7,322.2 83.2,309.2 86.0,318.8 89.3,319.3 92.7,336.3 95.7,320.5 99.0,315.5 102.2,325.5 105.2,325.2 108.5,328.8 111.8,333.8 115.2,318.8 118.5,309.2 121.5,307.2 124.3,318.0 127.3,315.5 131.0,317.2 137.3,320.0 140.0,318.3 143.3,318.0 146.7,314.3 150.3,317.7 153.3,316.7 156.7,322.2 160.0,321.0 163.0,320.0 166.7,317.7 170.0,317.7 173.3,318.8 176.3,317.2 179.7,313.3 183.0,313.8 186.3,325.5 189.2,314.7 195.8,314.7 199.2,317.7 202.2,335.0 205.3,318.8 208.3,318.3 211.7,321.0 215.0,342.2 218.0,326.8 219.7,343.3 221.7,378.3 224.7,411.7 228.3,405.0 230.8,405.0 234.2,402.0 237.2,349.2 240.8,340.0 244.2,344.2 247.5,348.0 250.8,348.0 254.2,341.3 257.5,343.7 260.8,396.7 263.7,431.7 266.7,380.0 270.0,336.3 273.3,338.3 276.7,334.2 279.7,325.0 282.9,325.6 285.9,354.9 290.0,353.3 292.5,357.5 295.8,350.5 299.2,350.5 302.0,390.8 305.3,372.6 308.4,379.2 311.6,359.7 314.7,382.3 320.3,423.0 324.4,397.9 327.0,425.0 335.0,425.0 339.9,422.4 343.3,415.8 347.7,370.5 351.0,373.0 353.9,433.6 357.3,345.6 360.5,401.6 363.9,406.0 366.7,366.8 370.0,393.0 373.2,421.0 376.4,497.0 379.6,428.0 382.9,396.0 386.1,363.4 389.3,388.5 392.5,410.0 395.7,429.8 398.9,389.5 401.7,390.4 404.8,391.0 408.7,407.7 411.7,405.2 415.0,427.7 418.0,421.0 421.3,436.8 425.8,441.0 429.2,451.0 435.0,440.2 439.2,449.3 441.3,429.3 444.5,350.8 448.3,452.7 450.8,358.7 453.7,360.8 457.5,354.2 460.5,359.7 463.7,404.2 467.0,408.3 470.0,353.0 473.0,348.7 476.3,356.7 479.7,354.7 483.0,357.0 485.8,355.3 492.5,418.5 498.7,385.0 502.0,382.0 505.0,392.0 508.3,394.2 511.3,397.5 514.7,380.8 517.5,355.8 520.8,348.0 524.7,349.2 527.5,381.7 531.0,416.0 534.0,416.0 537.5,381.3 540.8,380.3 544.2,368.7 547.5,391.3 550.5,388.0 553.7,401.7 557.0,394.2 560.3,436.0 566.7,388.3 570.0,398.0 573.0,402.5 576.3,390.0 579.7,401.7 583.0,414.7 587.5,401.5 590.8,399.8 594.9,403.1 598.2,405.6 601.5,403.1 604.9,348.0 609.0,381.6 611.5,391.5 614.5,401.5 618.1,349.4 620.6,396.5 623.9,386.6 628.0,382.4 631.4,400.7 634.7,334.5 638.0,374.2 641.6,366.3 644.6,340.6 648.0,338.4" fill="none" stroke="#727272" stroke-width="1.6" stroke-linejoin="round"/>
<g clip-path="url(#c2s0)"><polyline points="39.7,303.3 44.3,299.7 48.5,300.2 52.7,302.2 56.0,305.0 59.3,309.7 62.7,313.8 66.8,316.3 70.2,318.8 73.5,328.8 76.8,327.2 79.7,322.2 83.2,309.2 86.0,318.8 89.3,319.3 92.7,336.3 95.7,320.5 99.0,315.5 102.2,325.5 105.2,325.2 108.5,328.8 111.8,333.8 115.2,318.8 118.5,309.2 121.5,307.2 124.3,318.0 127.3,315.5 131.0,317.2 137.3,320.0 140.0,318.3 143.3,318.0 146.7,314.3 150.3,317.7 153.3,316.7 156.7,322.2 160.0,321.0 163.0,320.0 166.7,317.7 170.0,317.7 173.3,318.8 176.3,317.2 179.7,313.3 183.0,313.8 186.3,325.5 189.2,314.7 195.8,314.7 199.2,317.7 202.2,335.0 205.3,318.8 208.3,318.3 211.7,321.0 215.0,342.2 218.0,326.8 219.7,343.3 221.7,378.3 224.7,411.7 228.3,405.0 230.8,405.0 234.2,402.0 237.2,349.2 240.8,340.0 244.2,344.2 247.5,348.0 250.8,348.0 254.2,341.3 257.5,343.7 260.8,396.7 263.7,431.7 266.7,380.0 270.0,336.3 273.3,338.3 276.7,334.2 279.7,325.0 282.9,325.6 285.9,354.9 290.0,353.3 292.5,357.5 295.8,350.5 299.2,350.5 302.0,390.8 305.3,372.6 308.4,379.2 311.6,359.7 314.7,382.3 320.3,423.0 324.4,397.9 327.0,425.0 335.0,425.0 339.9,422.4 343.3,415.8 347.7,370.5 351.0,373.0 353.9,433.6 357.3,345.6 360.5,401.6 363.9,406.0 366.7,366.8 370.0,393.0 373.2,421.0 376.4,497.0 379.6,428.0 382.9,396.0 386.1,363.4 389.3,388.5 392.5,410.0 395.7,429.8 398.9,389.5 401.7,390.4 404.8,391.0 408.7,407.7 411.7,405.2 415.0,427.7 418.0,421.0 421.3,436.8 425.8,441.0 429.2,451.0 435.0,440.2 439.2,449.3 441.3,429.3 444.5,350.8 448.3,452.7 450.8,358.7 453.7,360.8 457.5,354.2 460.5,359.7 463.7,404.2 467.0,408.3 470.0,353.0 473.0,348.7 476.3,356.7 479.7,354.7 483.0,357.0 485.8,355.3 492.5,418.5 498.7,385.0 502.0,382.0 505.0,392.0 508.3,394.2 511.3,397.5 514.7,380.8 517.5,355.8 520.8,348.0 524.7,349.2 527.5,381.7 531.0,416.0 534.0,416.0 537.5,381.3 540.8,380.3 544.2,368.7 547.5,391.3 550.5,388.0 553.7,401.7 557.0,394.2 560.3,436.0 566.7,388.3 570.0,398.0 573.0,402.5 576.3,390.0 579.7,401.7 583.0,414.7 587.5,401.5 590.8,399.8 594.9,403.1 598.2,405.6 601.5,403.1 604.9,348.0 609.0,381.6 611.5,391.5 614.5,401.5 618.1,349.4 620.6,396.5 623.9,386.6 628.0,382.4 631.4,400.7 634.7,334.5 638.0,374.2 641.6,366.3 644.6,340.6 648.0,338.4" fill="none" stroke="#c9c9c9" stroke-width="1.3" stroke-dasharray="2 0.8" clip-path="url(#c2i0)"/></g>
<polyline points="40.5,426.5 43.5,417.8 52.7,417.8 56.8,414.0 63.5,414.0 66.8,416.1 70.2,415.6 73.0,413.1 76.0,415.6 79.0,426.1 81.8,426.1 85.2,432.8 91.8,434.0 95.2,425.6 98.5,418.1 101.8,423.1 105.2,427.6 108.5,426.8 111.8,425.6 114.3,421.8 117.7,417.8 121.0,417.8 124.3,418.6 127.3,420.3 131.0,418.1 134.0,415.6 137.2,425.6 140.2,422.8 143.3,424.0 146.7,423.5 150.3,426.1 153.3,422.3 156.7,422.8 159.7,420.1 163.3,423.1 166.3,423.5 169.7,427.8 172.5,424.5 175.8,424.0 179.2,421.1 182.5,421.5 185.8,421.1 189.2,418.5 192.5,417.3 195.8,418.5 199.2,419.8 202.5,420.6 205.8,417.8 209.2,418.5 212.5,419.8 215.8,420.1 219.2,420.6 222.5,421.1 225.8,423.1 229.2,424.8 232.5,429.8 235.8,435.6 239.2,441.5 242.5,439.8 245.0,439.0 248.3,441.5 252.5,439.8 255.8,435.6 259.2,434.0 262.5,433.1 265.8,430.6 269.2,426.5 272.5,427.3 275.8,431.5 279.2,430.6 282.5,428.1 285.8,425.6 289.2,422.3 292.5,419.8 295.8,423.1 299.2,425.6 305.0,425.6 308.3,432.3 311.7,438.1 315.0,437.8 328.6,437.2 330.8,374.2 334.0,322.5 337.3,437.4 340.3,438.1 343.3,443.1 346.7,444.0 350.0,443.1 353.3,441.5 356.7,439.8 360.0,440.6 363.3,442.8 366.7,440.6 370.0,436.1 373.3,436.1 375.8,434.5 378.5,433.8 381.4,416.0 384.5,434.0 386.5,434.0 389.8,388.2 391.2,437.2 395.0,437.8 399.2,437.8 401.7,429.0 405.0,438.5 408.0,434.0 411.7,437.3 414.2,437.3 417.5,440.6 420.8,437.3 424.2,436.8 427.5,427.3 430.5,436.1 433.7,430.6 436.7,434.0 440.0,427.3 443.0,428.1 447.0,418.6 453.3,428.1 456.7,434.0 460.0,439.0 463.3,441.5 466.3,442.8 469.5,436.5 472.5,444.0 475.8,436.5 479.2,435.1 482.5,434.5 485.8,434.0 488.3,441.5 491.7,438.5 495.0,440.6 498.0,425.6 500.8,429.8 504.2,428.1 507.5,434.0 510.8,424.8 514.2,432.8 517.5,433.5 520.8,433.1 524.2,439.0 526.7,435.6 530.0,433.1 532.5,429.0 535.0,428.1 537.5,438.1 540.0,440.6 543.3,429.8 546.7,431.5 550.0,435.6 553.3,434.0 556.7,439.8 560.8,438.5" fill="none" stroke="#1c1c1c" stroke-width="1.2" stroke-linejoin="round"/>
<path d="M42.1,416.7h2.6v2.6h-2.6zM45.4,416.5h2.6v2.6h-2.6zM48.6,416.5h2.6v2.6h-2.6zM51.8,416.1h2.6v2.6h-2.6zM55.0,413.1h2.6v2.6h-2.6zM58.3,412.7h2.6v2.6h-2.6zM61.5,412.7h2.6v2.6h-2.6zM64.7,414.3h2.6v2.6h-2.6zM68.0,414.5h2.6v2.6h-2.6zM71.2,412.3h2.6v2.6h-2.6zM74.4,414.1h2.6v2.6h-2.6zM77.6,424.7h2.6v2.6h-2.6zM80.9,425.5h2.6v2.6h-2.6zM84.1,431.6h2.6v2.6h-2.6zM87.3,432.1h2.6v2.6h-2.6zM90.6,432.6h2.6v2.6h-2.6zM93.8,424.5h2.6v2.6h-2.6zM97.0,417.3h2.6v2.6h-2.6zM100.3,421.4h2.6v2.6h-2.6zM103.5,425.8h2.6v2.6h-2.6zM106.7,425.6h2.6v2.6h-2.6zM109.9,424.6h2.6v2.6h-2.6zM113.2,420.4h2.6v2.6h-2.6zM116.4,416.5h2.6v2.6h-2.6zM119.6,416.5h2.6v2.6h-2.6zM122.9,417.3h2.6v2.6h-2.6zM126.1,419.0h2.6v2.6h-2.6zM129.3,417.1h2.6v2.6h-2.6zM132.5,414.5h2.6v2.6h-2.6zM135.8,424.0h2.6v2.6h-2.6zM139.0,421.6h2.6v2.6h-2.6zM142.2,422.7h2.6v2.6h-2.6zM145.5,422.2h2.6v2.6h-2.6zM148.7,424.6h2.6v2.6h-2.6zM151.9,421.2h2.6v2.6h-2.6zM155.1,421.5h2.6v2.6h-2.6zM158.4,418.9h2.6v2.6h-2.6zM161.6,421.5h2.6v2.6h-2.6zM164.8,422.2h2.6v2.6h-2.6zM168.1,426.1h2.6v2.6h-2.6zM171.3,423.2h2.6v2.6h-2.6zM174.5,422.7h2.6v2.6h-2.6zM177.7,420.0h2.6v2.6h-2.6zM181.0,420.2h2.6v2.6h-2.6zM184.2,419.9h2.6v2.6h-2.6zM187.4,417.5h2.6v2.6h-2.6zM190.7,416.2h2.6v2.6h-2.6zM193.9,417.0h2.6v2.6h-2.6zM197.1,418.2h2.6v2.6h-2.6zM200.4,419.1h2.6v2.6h-2.6zM203.6,417.3h2.6v2.6h-2.6zM206.8,417.0h2.6v2.6h-2.6zM210.0,418.1h2.6v2.6h-2.6zM213.3,418.7h2.6v2.6h-2.6zM216.5,419.1h2.6v2.6h-2.6zM219.7,419.6h2.6v2.6h-2.6zM223.0,420.9h2.6v2.6h-2.6zM226.2,422.7h2.6v2.6h-2.6zM229.4,425.8h2.6v2.6h-2.6zM232.6,431.0h2.6v2.6h-2.6zM235.9,436.7h2.6v2.6h-2.6zM239.1,439.6h2.6v2.6h-2.6zM242.3,438.1h2.6v2.6h-2.6zM245.6,439.1h2.6v2.6h-2.6zM248.8,439.5h2.6v2.6h-2.6zM252.0,437.5h2.6v2.6h-2.6zM255.2,434.0h2.6v2.6h-2.6zM258.5,432.5h2.6v2.6h-2.6zM261.7,431.5h2.6v2.6h-2.6zM264.9,428.9h2.6v2.6h-2.6zM268.2,425.3h2.6v2.6h-2.6zM271.4,426.3h2.6v2.6h-2.6zM274.6,430.2h2.6v2.6h-2.6zM277.8,429.4h2.6v2.6h-2.6zM281.1,426.9h2.6v2.6h-2.6zM284.3,424.5h2.6v2.6h-2.6zM287.5,421.4h2.6v2.6h-2.6zM290.8,418.8h2.6v2.6h-2.6zM294.0,421.3h2.6v2.6h-2.6zM297.2,423.9h2.6v2.6h-2.6zM300.4,424.3h2.6v2.6h-2.6zM303.7,424.3h2.6v2.6h-2.6zM306.9,430.8h2.6v2.6h-2.6zM310.1,436.4h2.6v2.6h-2.6zM313.4,436.6h2.6v2.6h-2.6zM316.6,436.4h2.6v2.6h-2.6zM319.8,436.2h2.6v2.6h-2.6zM323.1,436.1h2.6v2.6h-2.6zM326.3,435.9h2.6v2.6h-2.6zM329.5,372.7h2.6v2.6h-2.6zM332.7,322.6h2.6v2.6h-2.6zM336.0,435.0h2.6v2.6h-2.6zM339.2,437.1h2.6v2.6h-2.6zM342.4,441.9h2.6v2.6h-2.6zM345.7,442.6h2.6v2.6h-2.6zM348.9,441.8h2.6v2.6h-2.6zM352.1,440.1h2.6v2.6h-2.6zM355.3,438.5h2.6v2.6h-2.6zM358.6,439.3h2.6v2.6h-2.6zM361.8,441.4h2.6v2.6h-2.6zM365.0,439.6h2.6v2.6h-2.6zM368.3,435.4h2.6v2.6h-2.6zM371.5,434.8h2.6v2.6h-2.6zM374.7,433.1h2.6v2.6h-2.6zM377.9,427.9h2.6v2.6h-2.6zM381.2,420.9h2.6v2.6h-2.6zM384.4,432.7h2.6v2.6h-2.6zM387.6,398.9h2.6v2.6h-2.6zM390.9,436.1h2.6v2.6h-2.6zM394.1,436.5h2.6v2.6h-2.6zM397.3,436.5h2.6v2.6h-2.6zM400.5,428.2h2.6v2.6h-2.6zM403.8,437.1h2.6v2.6h-2.6zM407.0,433.0h2.6v2.6h-2.6zM410.2,435.9h2.6v2.6h-2.6zM413.5,436.6h2.6v2.6h-2.6zM416.7,438.9h2.6v2.6h-2.6zM419.9,436.0h2.6v2.6h-2.6zM423.2,434.7h2.6v2.6h-2.6zM426.4,426.5h2.6v2.6h-2.6zM429.6,434.1h2.6v2.6h-2.6zM432.8,429.9h2.6v2.6h-2.6zM436.1,431.3h2.6v2.6h-2.6zM439.3,426.2h2.6v2.6h-2.6zM442.5,424.9h2.6v2.6h-2.6zM445.8,417.4h2.6v2.6h-2.6zM449.0,422.3h2.6v2.6h-2.6zM452.2,427.2h2.6v2.6h-2.6zM455.4,432.8h2.6v2.6h-2.6zM458.7,437.6h2.6v2.6h-2.6zM461.9,440.1h2.6v2.6h-2.6zM465.1,441.3h2.6v2.6h-2.6zM468.4,435.6h2.6v2.6h-2.6zM471.6,441.8h2.6v2.6h-2.6zM474.8,435.1h2.6v2.6h-2.6zM478.0,433.8h2.6v2.6h-2.6zM481.3,433.2h2.6v2.6h-2.6zM484.5,432.7h2.6v2.6h-2.6zM487.7,439.6h2.6v2.6h-2.6zM491.0,437.6h2.6v2.6h-2.6zM494.2,436.9h2.6v2.6h-2.6zM497.4,425.4h2.6v2.6h-2.6zM500.6,428.0h2.6v2.6h-2.6zM503.9,428.6h2.6v2.6h-2.6zM507.1,430.2h2.6v2.6h-2.6zM510.3,425.4h2.6v2.6h-2.6zM513.6,431.7h2.6v2.6h-2.6zM516.8,432.1h2.6v2.6h-2.6zM520.0,432.7h2.6v2.6h-2.6zM523.3,437.2h2.6v2.6h-2.6zM526.5,433.5h2.6v2.6h-2.6zM529.7,430.2h2.6v2.6h-2.6zM532.9,427.1h2.6v2.6h-2.6zM536.2,436.7h2.6v2.6h-2.6zM539.4,437.1h2.6v2.6h-2.6zM542.6,428.8h2.6v2.6h-2.6zM545.9,430.8h2.6v2.6h-2.6zM549.1,434.2h2.6v2.6h-2.6zM552.3,433.2h2.6v2.6h-2.6zM555.5,438.5h2.6v2.6h-2.6zM558.8,437.4h2.6v2.6h-2.6z" fill="#1c1c1c"/>
<polyline points="580.8,437.8 584.2,433.1 587.5,428.1 590.8,425.6 594.2,423.5 597.5,421.5 600.8,419.5 604.2,420.6 607.5,417.8 610.8,419.0 614.2,420.6 617.5,420.6 620.8,413.1 624.2,415.6 627.5,417.3 630.8,414.8 633.8,410.1 637.2,417.3 640.0,413.1 643.3,409.0 646.7,405.1" fill="none" stroke="#1c1c1c" stroke-width="1.2" stroke-linejoin="round"/>
<path d="M581.4,433.9h2.6v2.6h-2.6zM584.6,429.3h2.6v2.6h-2.6zM587.8,425.6h2.6v2.6h-2.6zM591.1,423.4h2.6v2.6h-2.6zM594.3,421.3h2.6v2.6h-2.6zM597.5,419.4h2.6v2.6h-2.6zM600.7,418.6h2.6v2.6h-2.6zM604.0,418.4h2.6v2.6h-2.6zM607.2,416.9h2.6v2.6h-2.6zM610.4,418.1h2.6v2.6h-2.6zM613.7,419.3h2.6v2.6h-2.6zM616.9,417.8h2.6v2.6h-2.6zM620.1,412.3h2.6v2.6h-2.6zM623.3,414.6h2.6v2.6h-2.6zM626.6,415.7h2.6v2.6h-2.6zM629.8,413.1h2.6v2.6h-2.6zM633.0,409.9h2.6v2.6h-2.6zM636.3,415.4h2.6v2.6h-2.6zM639.5,410.9h2.6v2.6h-2.6zM642.7,406.9h2.6v2.6h-2.6z" fill="#1c1c1c"/>
<polyline points="92.2,439.0 95.2,384.0 98.5,418.1 101.8,401.5 105.3,394.1 108.7,394.1 112.0,398.0 115.2,379.1 118.5,391.6 121.5,391.6 124.8,396.6 128.2,357.5 131.5,370.8 134.5,357.5 137.7,357.5 141.0,329.1 144.3,340.0 150.7,339.1 154.0,358.3 156.8,368.3 163.2,372.5 166.5,359.1 169.5,370.5 172.3,370.5 176.2,375.0 185.3,375.0 188.7,352.8 193.0,399.8 195.8,399.8 199.2,408.1 202.5,407.3 205.8,416.5 208.3,444.0 212.5,443.1 215.0,439.8 218.0,433.5 221.7,439.8 225.0,447.3 228.3,459.8 230.8,489.8 234.2,489.0 237.5,489.0 240.8,491.0 243.8,454.0 246.7,431.5 250.0,459.8 253.3,458.1 256.7,444.0 260.0,459.8 263.3,464.8 266.7,466.5 269.2,499.5 272.5,481.5 276.7,474.0 280.0,357.3 286.3,366.5 290.0,401.5 293.0,419.8 295.8,434.0 298.3,443.1 301.7,441.1 305.0,444.0 308.3,451.5 311.7,454.0 315.0,461.5 318.0,444.8 321.3,452.3 324.7,460.6 327.5,461.1 330.8,452.3 333.8,462.8 337.2,453.1 340.3,462.8 343.3,462.8 346.7,448.1 350.0,436.8 352.8,449.0 356.3,428.1 359.2,436.5 363.0,436.5 366.7,428.1 368.3,413.1 370.0,390.6 373.3,384.0 376.7,366.5 379.7,353.5 383.0,361.5 385.8,370.6 389.2,388.1 392.5,389.8 397.5,418.1 399.2,424.8 401.3,475.1 405.0,475.1 408.3,466.8 415.0,466.8 417.5,476.5 420.8,489.0 424.2,490.6 427.5,493.1 430.5,483.1 433.7,489.8 436.7,481.5 440.0,481.5 443.0,433.1 445.8,451.5 448.3,459.0 451.7,463.1 455.0,462.3 458.3,458.1 461.7,462.3 465.0,478.1 466.7,489.0 471.7,484.8 476.7,484.8 479.2,464.8 482.5,461.5 485.8,480.6 488.7,479.0 495.0,504.8 498.3,484.8 501.7,474.0 508.3,478.1 511.7,445.6 514.7,461.5 517.5,452.3 520.0,449.0 524.2,448.6 525.5,433.1 527.5,418.5 530.0,428.1 533.3,427.8 536.7,437.3 540.0,440.6 543.3,434.8 546.7,443.1 550.3,526.1 554.2,448.1 556.7,456.5 560.8,454.0" fill="none" stroke="#1c1c1c" stroke-width="2.1" stroke-linejoin="miter" stroke-miterlimit="3" clip-path="url(#c2p)"/>
<polyline points="582.5,423.1 585.0,465.6 588.3,466.5 591.7,463.1 595.0,463.1 598.0,432.3 601.7,434.8 605.0,446.5 608.0,456.5 610.8,426.1 614.2,426.1 617.5,454.8 620.8,460.6 624.2,463.1 627.5,460.6 630.8,451.5 634.2,423.1 637.5,447.3 640.8,447.8 644.2,451.5 647.5,436.5 653.3,436.5 657.0,448.1" fill="none" stroke="#1c1c1c" stroke-width="2.1" stroke-linejoin="miter" stroke-miterlimit="3" clip-path="url(#c2p)"/>
<line x1="39.5" y1="297.9" x2="39.5" y2="521.6" stroke="#6a6a6a" stroke-width="1.2"/>
<line x1="34.5" y1="521.1" x2="658.5" y2="521.1" stroke="#6a6a6a" stroke-width="1.2"/>
<line x1="34.5" y1="305.55" x2="39.5" y2="305.55" stroke="#6a6a6a" stroke-width="1.2"/>
<line x1="34.5" y1="341.8" x2="39.5" y2="341.8" stroke="#6a6a6a" stroke-width="1.2"/>
<line x1="34.5" y1="377.6" x2="39.5" y2="377.6" stroke="#6a6a6a" stroke-width="1.2"/>
<line x1="34.5" y1="413.4" x2="39.5" y2="413.4" stroke="#6a6a6a" stroke-width="1.2"/>
<line x1="34.5" y1="449.5" x2="39.5" y2="449.5" stroke="#6a6a6a" stroke-width="1.2"/>
<line x1="34.5" y1="485.6" x2="39.5" y2="485.6" stroke="#6a6a6a" stroke-width="1.2"/>
<path d="M39.50,521.1v4.5M42.72,521.1v4.5M45.95,521.1v4.5M49.17,521.1v4.5M52.40,521.1v4.5M55.62,521.1v4.5M58.84,521.1v4.5M62.07,521.1v4.5M65.29,521.1v4.5M68.52,521.1v4.5M71.74,521.1v4.5M74.96,521.1v4.5M78.19,521.1v4.5M81.41,521.1v4.5M84.64,521.1v4.5M87.86,521.1v4.5M91.08,521.1v4.5M94.31,521.1v4.5M97.53,521.1v4.5M100.76,521.1v4.5M103.98,521.1v4.5M107.20,521.1v4.5M110.43,521.1v4.5M113.65,521.1v4.5M116.88,521.1v4.5M120.10,521.1v4.5M123.32,521.1v4.5M126.55,521.1v4.5M129.77,521.1v4.5M132.99,521.1v4.5M136.22,521.1v4.5M139.44,521.1v4.5M142.67,521.1v4.5M145.89,521.1v4.5M149.11,521.1v4.5M152.34,521.1v4.5M155.56,521.1v4.5M158.79,521.1v4.5M162.01,521.1v4.5M165.23,521.1v4.5M168.46,521.1v4.5M171.68,521.1v4.5M174.91,521.1v4.5M178.13,521.1v4.5M181.35,521.1v4.5M184.58,521.1v4.5M187.80,521.1v4.5M191.03,521.1v4.5M194.25,521.1v4.5M197.47,521.1v4.5M200.70,521.1v4.5M203.92,521.1v4.5M207.15,521.1v4.5M210.37,521.1v4.5M213.59,521.1v4.5M216.82,521.1v4.5M220.04,521.1v4.5M223.27,521.1v4.5M226.49,521.1v4.5M229.71,521.1v4.5M232.94,521.1v4.5M236.16,521.1v4.5M239.39,521.1v4.5M242.61,521.1v4.5M245.83,521.1v4.5M249.06,521.1v4.5M252.28,521.1v4.5M255.51,521.1v4.5M258.73,521.1v4.5M261.95,521.1v4.5M265.18,521.1v4.5M268.40,521.1v4.5M271.62,521.1v4.5M274.85,521.1v4.5M278.07,521.1v4.5M281.30,521.1v4.5M284.52,521.1v4.5M287.74,521.1v4.5M290.97,521.1v4.5M294.19,521.1v4.5M297.42,521.1v4.5M300.64,521.1v4.5M303.86,521.1v4.5M307.09,521.1v4.5M310.31,521.1v4.5M313.54,521.1v4.5M316.76,521.1v4.5M319.98,521.1v4.5M323.21,521.1v4.5M326.43,521.1v4.5M329.66,521.1v4.5M332.88,521.1v4.5M336.10,521.1v4.5M339.33,521.1v4.5M342.55,521.1v4.5M345.78,521.1v4.5M349.00,521.1v4.5M352.22,521.1v4.5M355.45,521.1v4.5M358.67,521.1v4.5M361.90,521.1v4.5M365.12,521.1v4.5M368.34,521.1v4.5M371.57,521.1v4.5M374.79,521.1v4.5M378.02,521.1v4.5M381.24,521.1v4.5M384.46,521.1v4.5M387.69,521.1v4.5M390.91,521.1v4.5M394.14,521.1v4.5M397.36,521.1v4.5M400.58,521.1v4.5M403.81,521.1v4.5M407.03,521.1v4.5M410.26,521.1v4.5M413.48,521.1v4.5M416.70,521.1v4.5M419.93,521.1v4.5M423.15,521.1v4.5M426.38,521.1v4.5M429.60,521.1v4.5M432.82,521.1v4.5M436.05,521.1v4.5M439.27,521.1v4.5M442.49,521.1v4.5M445.72,521.1v4.5M448.94,521.1v4.5M452.17,521.1v4.5M455.39,521.1v4.5M458.61,521.1v4.5M461.84,521.1v4.5M465.06,521.1v4.5M468.29,521.1v4.5M471.51,521.1v4.5M474.73,521.1v4.5M477.96,521.1v4.5M481.18,521.1v4.5M484.41,521.1v4.5M487.63,521.1v4.5M490.85,521.1v4.5M494.08,521.1v4.5M497.30,521.1v4.5M500.53,521.1v4.5M503.75,521.1v4.5M506.97,521.1v4.5M510.20,521.1v4.5M513.42,521.1v4.5M516.65,521.1v4.5M519.87,521.1v4.5M523.09,521.1v4.5M526.32,521.1v4.5M529.54,521.1v4.5M532.77,521.1v4.5M535.99,521.1v4.5M539.21,521.1v4.5M542.44,521.1v4.5M545.66,521.1v4.5M548.89,521.1v4.5M552.11,521.1v4.5M555.33,521.1v4.5M558.56,521.1v4.5M561.78,521.1v4.5M565.01,521.1v4.5M568.23,521.1v4.5M571.45,521.1v4.5M574.68,521.1v4.5M577.90,521.1v4.5M581.12,521.1v4.5M584.35,521.1v4.5M587.57,521.1v4.5M590.80,521.1v4.5M594.02,521.1v4.5M597.24,521.1v4.5M600.47,521.1v4.5M603.69,521.1v4.5M606.92,521.1v4.5M610.14,521.1v4.5M613.36,521.1v4.5M616.59,521.1v4.5M619.81,521.1v4.5M623.04,521.1v4.5M626.26,521.1v4.5M629.48,521.1v4.5M632.71,521.1v4.5M635.93,521.1v4.5M639.16,521.1v4.5M642.38,521.1v4.5M645.60,521.1v4.5M648.83,521.1v4.5M652.05,521.1v4.5M655.28,521.1v4.5M658.50,521.1v4.5" stroke="#3a3a3a" stroke-width="1.1" fill="none"/>
<text x="7.3" y="309.6" class="yl">1.18</text>
<text x="7.3" y="345.8" class="yl">1.13</text>
<text x="7.3" y="381.6" class="yl">1.08</text>
<text x="7.3" y="417.4" class="yl">1.03</text>
<text x="7.3" y="453.5" class="yl">0.98</text>
<text x="7.3" y="489.6" class="yl">0.93</text>
<text x="7.3" y="525.1" class="yl">0.88</text>
<text class="xl" transform="translate(44.8,529.6) rotate(-90) scale(0.772,1)" text-anchor="end">1-1846</text>
<text class="xl" transform="translate(60.9,529.6) rotate(-90) scale(0.772,1)" text-anchor="end">6-1846</text>
<text class="xl" transform="translate(77.0,529.6) rotate(-90) scale(0.772,1)" text-anchor="end">11-1846</text>
<text class="xl" transform="translate(93.2,529.6) rotate(-90) scale(0.772,1)" text-anchor="end">4-1847</text>
<text class="xl" transform="translate(109.3,529.6) rotate(-90) scale(0.772,1)" text-anchor="end">9-1847</text>
<text class="xl" transform="translate(125.5,529.6) rotate(-90) scale(0.772,1)" text-anchor="end">2-1848</text>
<text class="xl" transform="translate(141.6,529.6) rotate(-90) scale(0.772,1)" text-anchor="end">7-1848</text>
<text class="xl" transform="translate(157.8,529.6) rotate(-90) scale(0.772,1)" text-anchor="end">12-1848</text>
<text class="xl" transform="translate(173.9,529.6) rotate(-90) scale(0.772,1)" text-anchor="end">5-1849</text>
<text class="xl" transform="translate(190.1,529.6) rotate(-90) scale(0.772,1)" text-anchor="end">10-1849</text>
<text class="xl" transform="translate(206.2,529.6) rotate(-90) scale(0.772,1)" text-anchor="end">3-1850</text>
<text class="xl" transform="translate(222.4,529.6) rotate(-90) scale(0.772,1)" text-anchor="end">8-1850</text>
<text class="xl" transform="translate(238.5,529.6) rotate(-90) scale(0.772,1)" text-anchor="end">1-1851</text>
<text class="xl" transform="translate(254.7,529.6) rotate(-90) scale(0.772,1)" text-anchor="end">6-1851</text>
<text class="xl" transform="translate(270.8,529.6) rotate(-90) scale(0.772,1)" text-anchor="end">11-1851</text>
<text class="xl" transform="translate(287.0,529.6) rotate(-90) scale(0.772,1)" text-anchor="end">4-1852</text>
<text class="xl" transform="translate(303.1,529.6) rotate(-90) scale(0.772,1)" text-anchor="end">9-1852</text>
<text class="xl" transform="translate(319.3,529.6) rotate(-90) scale(0.772,1)" text-anchor="end">2-1853</text>
<text class="xl" transform="translate(335.4,529.6) rotate(-90) scale(0.772,1)" text-anchor="end">7-1853</text>
<text class="xl" transform="translate(351.6,529.6) rotate(-90) scale(0.772,1)" text-anchor="end">12-1853</text>
<text class="xl" transform="translate(367.7,529.6) rotate(-90) scale(0.772,1)" text-anchor="end">5-1854</text>
<text class="xl" transform="translate(383.9,529.6) rotate(-90) scale(0.772,1)" text-anchor="end">10-1854</text>
<text class="xl" transform="translate(400.0,529.6) rotate(-90) scale(0.772,1)" text-anchor="end">3-1855</text>
<text class="xl" transform="translate(416.2,529.6) rotate(-90) scale(0.772,1)" text-anchor="end">8-1855</text>
<text class="xl" transform="translate(432.3,529.6) rotate(-90) scale(0.772,1)" text-anchor="end">1-1856</text>
<text class="xl" transform="translate(448.5,529.6) rotate(-90) scale(0.772,1)" text-anchor="end">6-1856</text>
<text class="xl" transform="translate(464.6,529.6) rotate(-90) scale(0.772,1)" text-anchor="end">11-1856</text>
<text class="xl" transform="translate(480.8,529.6) rotate(-90) scale(0.772,1)" text-anchor="end">4-1857</text>
<text class="xl" transform="translate(496.9,529.6) rotate(-90) scale(0.772,1)" text-anchor="end">9-1857</text>
<text class="xl" transform="translate(513.1,529.6) rotate(-90) scale(0.772,1)" text-anchor="end">2-1858</text>
<text class="xl" transform="translate(529.2,529.6) rotate(-90) scale(0.772,1)" text-anchor="end">7-1858</text>
<text class="xl" transform="translate(545.4,529.6) rotate(-90) scale(0.772,1)" text-anchor="end">12-1858</text>
<text class="xl" transform="translate(561.5,529.6) rotate(-90) scale(0.772,1)" text-anchor="end">5-1859</text>
<text class="xl" transform="translate(577.7,529.6) rotate(-90) scale(0.772,1)" text-anchor="end">10-1859</text>
<text class="xl" transform="translate(593.8,529.6) rotate(-90) scale(0.772,1)" text-anchor="end">3-1860</text>
<text class="xl" transform="translate(609.9,529.6) rotate(-90) scale(0.772,1)" text-anchor="end">8-1860</text>
<text class="xl" transform="translate(626.1,529.6) rotate(-90) scale(0.772,1)" text-anchor="end">1-1861</text>
<text class="xl" transform="translate(642.2,529.6) rotate(-90) scale(0.772,1)" text-anchor="end">6-1861</text>
<text class="xl" transform="translate(658.4,529.6) rotate(-90) scale(0.772,1)" text-anchor="end">11-1861</text>
<line x1="346.2" y1="314.2" x2="367.7" y2="314.2" stroke="#1c1c1c" stroke-width="2"/>
<text x="370.0" y="318.5" class="lg">Spot exchange rates</text>
<line x1="346.2" y1="332.7" x2="367.7" y2="332.7" stroke="#1c1c1c" stroke-width="1"/>
<rect x="355.8" y="331.59999999999997" width="2.2" height="2.2" fill="#1c1c1c"/>
<text x="370.0" y="336.5" class="lg">Triangular import points</text>
<line x1="505.5" y1="314.0" x2="526.5" y2="314.0" stroke="#727272" stroke-width="1.6"/>
<text x="528.0" y="317.8" class="lg">Triangular export points</text>
<line x1="193.0" y1="467.0" x2="234.5" y2="461.2" stroke="#1c1c1c" stroke-width="1.7"/>
<rect x="96.5" y="453.5" width="97" height="29" fill="#fff" stroke="#303030" stroke-width="1"/>
<text x="99.5" y="465.0" class="bx">Arbitrage profit for</text>
<text x="99.5" y="478.7" class="bx">silver imports</text>
<line x1="343.2" y1="489.0" x2="376.2" y2="442.5" stroke="#1c1c1c" stroke-width="1.7"/>
<rect x="278.5" y="489.5" width="95" height="27" fill="#fff" stroke="#303030" stroke-width="1"/>
<text x="280.5" y="499.2" class="bx">Arbitrage profit for</text>
<text x="280.5" y="513.0" class="bx">silver exports</text>
</svg>
</body></html>
